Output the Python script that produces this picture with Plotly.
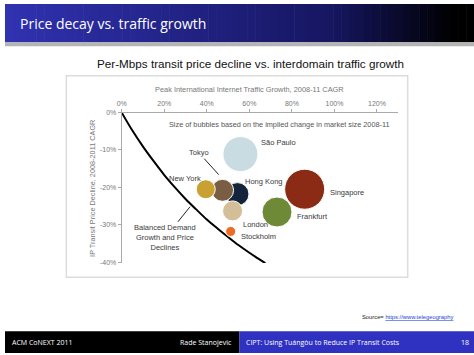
import plotly.graph_objects as go

W, H = 474, 355

# ---------------- data ----------------
cities = ["Hong Kong", "Tokyo", "New York", "London", "Stockholm", "São Paulo", "Frankfurt", "Singapore"]
traffic_growth = [54.4, 47.4, 39.5, 52.1, 51.2, 55.8, 73.0, 86.0]      # % CAGR 2008-11
price_decline = [-21.8, -20.8, -20.5, -26.3, -31.8, -11.1, -26.6, -20.5]  # % CAGR 2008-11
bubble_size = [23, 22, 19, 20, 10, 35, 30, 40]
bubble_colors = ["#14243a", "#7a5e43", "#c9a132", "#d3be98", "#ef6a24", "#c8dce1", "#6f8a36", "#8b2b16"]

curve_growth = [0, 5, 10, 15, 20, 25, 30, 35, 40, 45, 50, 55, 60, 64, 67.5]
curve_price = [0, -4.8, -9.1, -13.0, -16.7, -20.0, -23.1, -25.9, -28.6, -31.0, -33.3, -35.5, -37.5, -39.0, -40.3]

x_ticks = [0, 20, 40, 60, 80, 100, 120]
x_ticktext = ["0%", "20%", "40%", "60%", "80%", "100%", "120%"]
y_ticks = [0, -10, -20, -30, -40]
y_ticktext = ["0%", "-10%", "-20%", "-30%", "-40%"]


def px(x):
    return x / W


def py(y):
    return 1 - y / H


fig = go.Figure()

# balanced demand curve
fig.add_trace(go.Scatter(x=curve_growth, y=curve_price, mode="lines",
                         line=dict(color="black", width=2, shape="spline"),
                         hoverinfo="skip", showlegend=False))

# bubbles
fig.add_trace(go.Scatter(x=traffic_growth, y=price_decline, mode="markers", text=cities,
                         marker=dict(size=bubble_size, color=bubble_colors, opacity=1,
                                     line=dict(color="white", width=1)),
                         showlegend=False))

shapes = []
# header gradient
n = 60
c0 = (48, 50, 176)
c1 = (22, 22, 96)
c2 = (0, 0, 0)
for i in range(n):
    xpix = i * W / n
    if xpix < 330:
        f = xpix / 330
        c = tuple(int(c0[k] + (c1[k] - c0[k]) * f) for k in range(3))
    else:
        f = min(1, (xpix - 330) / 120)
        c = tuple(int(c1[k] + (c2[k] - c1[k]) * f) for k in range(3))
    shapes.append(dict(type="rect", xref="paper", yref="paper",
                       x0=px(i * W / n), x1=px((i + 1) * W / n + 0.6), y0=py(39), y1=py(0),
                       fillcolor="rgb(%d,%d,%d)" % c, line=dict(width=0), layer="below"))
shapes.append(dict(type="rect", xref="paper", yref="paper", x0=0, x1=1, y0=py(43), y1=py(39),
                   fillcolor="#b4b4b4", line=dict(width=0), layer="below"))
# footer
shapes.append(dict(type="rect", xref="paper", yref="paper", x0=0, x1=px(237), y0=0, y1=py(333),
                   fillcolor="#000000", line=dict(width=0), layer="below"))
shapes.append(dict(type="rect", xref="paper", yref="paper", x0=px(237), x1=1, y0=0, y1=py(333),
                   fillcolor="#2f31c0", line=dict(width=0), layer="below"))
# chart frame
shapes.append(dict(type="rect", xref="paper", yref="paper", x0=px(62), x1=px(407), y0=py(278), y1=py(73),
                   fillcolor="rgba(0,0,0,0)", line=dict(color="#dcdcdc", width=1.5), layer="below"))

F = "Liberation Sans, Arial, sans-serif"
SL = "Open Sans, Lato, sans-serif"
ann = []
# slide title
ann.append(dict(x=px(13), y=py(20), xref="paper", yref="paper", text="Price decay vs. traffic growth",
                showarrow=False, xanchor="left", yanchor="middle",
                font=dict(family=SL, size=14, color="white")))
# chart title
ann.append(dict(x=px(248), y=py(61), xref="paper", yref="paper",
                text="Per-Mbps transit price decline vs. interdomain traffic growth",
                showarrow=False, xanchor="center", yanchor="middle",
                font=dict(family=F, size=11.7, color="#111")))
ann.append(dict(x=px(247), y=py(87), xref="paper", yref="paper",
                text="Peak International Internet Traffic Growth, 2008-11 CAGR",
                showarrow=False, xanchor="center", yanchor="middle",
                font=dict(family=F, size=7.4, color="#777")))
ann.append(dict(x=px(89), y=py(188), xref="paper", yref="paper",
                text="IP Transit Price Decline, 2008-2011 CAGR", textangle=-90,
                showarrow=False, xanchor="center", yanchor="middle",
                font=dict(family=F, size=7.3, color="#777")))
ann.append(dict(x=px(164), y=py(123), xref="paper", yref="paper",
                text="Size of bubbles based on the implied change in market size 2008-11",
                showarrow=False, xanchor="left", yanchor="middle",
                font=dict(family=F, size=7.3, color="#555")))

lab = dict(family=F, size=7.5, color="#3a3a3a")
# city labels (paper coords)
labels = [
    ("São Paulo", 257, 141, "left"),
    ("New York", 200, 178, "right"),
    ("Hong Kong", 241, 181, "left"),
    ("Singapore", 326, 192, "left"),
    ("Frankfurt", 293, 216, "left"),
    ("London", 239, 224, "left"),
    ("Stockholm", 236, 236, "left"),
]
for t, x, y, a in labels:
    ann.append(dict(x=px(x), y=py(y), xref="paper", yref="paper", text=t, showarrow=False,
                    xanchor=a, yanchor="middle", font=lab))
# Tokyo with leader
ann.append(dict(x=45.6, y=-16.6, xref="x", yref="y", text="Tokyo", showarrow=True,
                ax=-20, ay=-22, arrowhead=0, arrowwidth=1, arrowcolor="#222", font=lab))
# balanced demand label
ann.append(dict(x=32.1, y=-25.2, xref="x", yref="y",
                text="Balanced Demand<br>Growth and Price<br>Declines", showarrow=True,
                ax=-25, ay=31, arrowhead=0, arrowwidth=1, arrowcolor="#222",
                align="center", font=lab))
# source
ann.append(dict(x=px(455), y=py(318), xref="paper", yref="paper",
                text="Source= <span style='color:#1a3fd8'><u>https://www.telegeography</u></span>",
                showarrow=False, xanchor="right", yanchor="middle",
                font=dict(family=F, size=5.8, color="#222")))
# footer texts
ft = dict(family=SL, size=7, color="white")
ann.append(dict(x=px(5), y=py(344), xref="paper", yref="paper", text="ACM CoNEXT 2011",
                showarrow=False, xanchor="left", yanchor="middle", font=ft))
ann.append(dict(x=px(231), y=py(344), xref="paper", yref="paper", text="Rade Stanojevic",
                showarrow=False, xanchor="right", yanchor="middle", font=ft))
ann.append(dict(x=px(242), y=py(344), xref="paper", yref="paper",
                text="CIPT: Using Tuángòu to Reduce IP Transit Costs",
                showarrow=False, xanchor="left", yanchor="middle", font=ft))
ann.append(dict(x=px(465), y=py(344), xref="paper", yref="paper", text="18",
                showarrow=False, xanchor="center", yanchor="middle", font=ft))

fig.update_layout(
    width=W, height=H,
    margin=dict(l=0, r=0, t=0, b=0),
    paper_bgcolor="white", plot_bgcolor="rgba(0,0,0,0)",
    shapes=shapes, annotations=ann, showlegend=False,
    xaxis=dict(domain=[px(118), px(397)], range=[0, 129.8], side="top",
               tickvals=x_ticks, ticktext=x_ticktext, ticks="outside", ticklen=3,
               tickcolor="#aaa", showline=True, linecolor="#aaa", linewidth=1,
               showgrid=False, zeroline=False,
               tickfont=dict(family=F, size=7, color="#777")),
    yaxis=dict(domain=[py(263.5), py(110.5)], range=[-40.26, 0],
               tickvals=y_ticks, ticktext=y_ticktext, ticks="outside", ticklen=3,
               tickcolor="#aaa", showline=True, linecolor="#aaa", linewidth=1,
               showgrid=False, zeroline=False,
               tickfont=dict(family=F, size=7, color="#777")),
)

fig.write_html("out.html", config={"displayModeBar": False},
               post_script="document.body.style.margin='0px';document.body.style.overflow='hidden';")
